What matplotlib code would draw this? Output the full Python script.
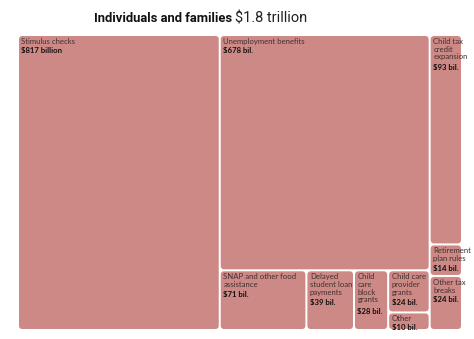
import matplotlib
matplotlib.use('Agg')
import matplotlib.pyplot as plt
from matplotlib.patches import FancyBboxPatch

### Spending data (billions of dollars)
labels = ['Stimulus checks', 'Unemployment benefits', 'SNAP and other food\nassistance',
          'Delayed\nstudent loan\npayments', 'Child\ncare\nblock\ngrants',
          'Child care\nprovider\ngrants', 'Other', 'Child tax\ncredit\nexpansion',
          'Retirement\nplan rules', 'Other tax\nbreaks']
values = [817, 678, 71, 39, 28, 24, 10, 93, 14, 24]
value_text = ['$817 billion', '$678 bil.', '$71 bil.', '$39 bil.', '$28 bil.',
              '$24 bil.', '$10 bil.', '$93 bil.', '$14 bil.', '$24 bil.']

# nesting of the treemap: 'h' splits side by side, 'v' stacks top to bottom
layout = ('h', [0,
                ('v', [1, ('h', [2, 3, 4, ('v', [5, 6])])]),
                ('v', [7, 8, 9])])

def total(node):
    if isinstance(node, int):
        return values[node]
    return sum(total(n) for n in node[1])

def place(node, x, y, w, h, out):
    if isinstance(node, int):
        out[node] = (x, y, w, h)
        return
    kind, kids = node
    s = total(node)
    pos = 0.0
    for k in kids:
        frac = total(k) / s
        if kind == 'h':
            place(k, x + pos * w, y, frac * w, h, out)
        else:
            place(k, x, y + pos * h, w, frac * h, out)
        pos += frac

rects = {}
place(layout, 18, 35, 444, 295, rects)

fig = plt.figure(figsize=(4.74, 3.39), dpi=100)
ax = fig.add_axes([0, 0, 1, 1])
ax.set_xlim(0, 474)
ax.set_ylim(339, 0)
ax.axis('off')

fill = '#cd8985'
gap = 1.0
fs = 5.6
line_h = 8.6

for i in range(len(values)):
    x, y, w, h = rects[i]
    box = FancyBboxPatch((x + gap, y + gap), w - 2 * gap, h - 2 * gap,
                         boxstyle='round,pad=0,rounding_size=3.5',
                         facecolor=fill, edgecolor='none')
    ax.add_patch(box)
    ax.text(x + 3.5, y + 3, labels[i], ha='left', va='top', fontsize=fs,
            family='Lato', color='#3f3030', linespacing=1.12)
    n = labels[i].count('\n') + 1
    ax.text(x + 3.5, y + 3 + n * line_h, value_text[i], ha='left', va='top',
            fontsize=fs, family='Lato', fontweight='bold', color='#111111')

ax.text(232, 18, 'Individuals and families', ha='right', va='center',
        fontsize=9.4, family='Roboto', fontweight='bold', color='#111111')
ax.text(235, 18, '$1.8 trillion', ha='left', va='center',
        fontsize=10.5, family='Roboto', color='#222222')

fig.savefig('out.png', dpi=100)
